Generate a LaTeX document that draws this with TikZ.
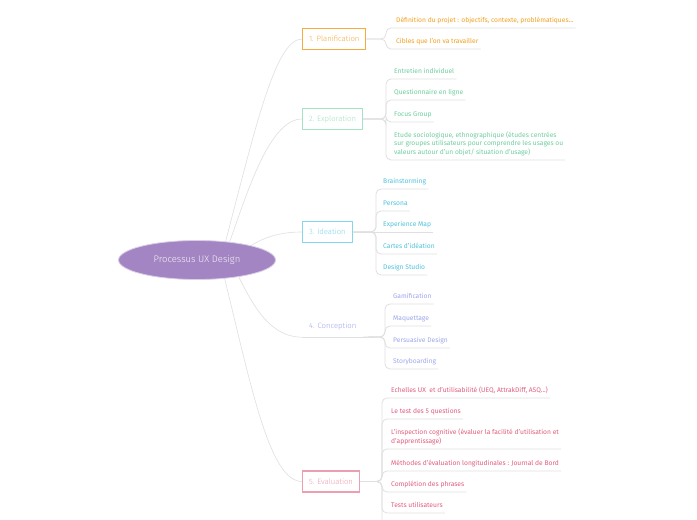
\documentclass[tikz,border=0pt]{standalone}
\usepackage{fontspec}
\setmainfont{Fira Sans}
\newfontfamily\thinfont{Fira Sans Light}
\usetikzlibrary{shapes.geometric}
\definecolor{linkgrey}{HTML}{E0E0E0}
\definecolor{orgbox}{HTML}{F7AB3E}
\definecolor{orgtxt}{HTML}{F2A01C}
\definecolor{grnbox}{HTML}{A3E2C4}
\definecolor{grntxt}{HTML}{6FCE9F}
\definecolor{cyabox}{HTML}{86D6EA}
\definecolor{cyatxt}{HTML}{4FC2DC}
\definecolor{lavtxt}{HTML}{9DA8EC}
\definecolor{pnkbox}{HTML}{EC9FB1}
\definecolor{pnktxt}{HTML}{E25C7E}
\definecolor{centrefill}{HTML}{A385C3}
\tikzset{
  x=1pt,y=1pt,
  link/.style={draw=linkgrey, line width=0.6pt},
  sublink/.style={draw=linkgrey, line width=0.8pt, rounded corners=5pt},
  topbox/.style={draw=#1, line width=1.1pt, fill=white, text=#1,
    font=\thinfont\fontsize{7.7}{9}\selectfont, minimum height=21pt,
    inner xsep=6.5pt, anchor=west},
  item/.style={text=#1, font=\fontsize{6.7}{8.6}\selectfont, anchor=south west,
    inner xsep=2pt, inner ysep=3.2pt, align=left, text depth=2pt}
}
\begin{document}
\begin{tikzpicture}
\useasboundingbox (0,0) rectangle (697,520);
\fill[white] (0,0) rectangle (697,520);

% centre
\node[ellipse, fill=centrefill, draw=centrefill!40!white, line width=0.8pt,
  minimum width=157pt, minimum height=39pt, inner sep=0pt,
  text=white!90!centrefill, font=\thinfont\fontsize{9.5}{11}\selectfont]
  (c) at (197,260) {Processus UX Design};

% main nodes
\node[topbox=orgbox] (p1) at (302,481) {1. Planification};
\node[topbox=grnbox] (p2) at (302,401) {2. Exploration};
\node[topbox=cyabox] (p3) at (302,288) {3. Ideation};
\node[anchor=west, text=lavtxt, font=\thinfont\fontsize{7.7}{9}\selectfont,
  minimum height=21pt, inner xsep=7pt] (p4) at (302,193.5) {4. Conception};
\node[topbox=pnkbox] (p5) at (302,38.5) {5. Evaluation};

% branch coordinates
\coordinate (b1) at (386,481);
\coordinate (b2) at (386,401);
\coordinate (b3) at (376,288);
\coordinate (b4) at (385,183);
\coordinate (b5) at (382,38.5);

% centre connectors
\draw[link] (c.33) .. controls (255,390) and (275,481) .. (p1.west);
\draw[link] (c.29) .. controls (248,330) and (270,401) .. (p2.west);
\draw[link] (c.15) .. controls (268,285) and (285,288) .. (p3.west);
\draw[link] (c.-22) .. controls (255,210) and (272,183) .. (p4.south west);
\draw[sublink] (p4.south west) -- (p4.south east);
\draw[link] (c.-34) .. controls (252,130) and (270,38.5) .. (p5.west);

% group 1
\node[item=orgtxt] (c11) at (394,492) {Définition du projet : objectifs, contexte, problématiques...};
\node[item=orgtxt] (c12) at (394,471) {Cibles que l'on va travailler};
\draw[sublink] (p1.east) -- (b1) |- (c11.south east);
\draw[sublink] (p1.east) -- (b1) |- (c12.south east);

% group 2
\node[item=grntxt] (c21) at (392,441) {Entretien individuel};
\node[item=grntxt] (c22) at (392,420) {Questionnaire en ligne};
\node[item=grntxt] (c23) at (392,398) {Focus Group};
\node[item=grntxt] (c24) at (392,360) {Etude sociologique, ethnographique (études centrées\\sur groupes utilisateurs pour comprendre les usages ou\\valeurs autour d'un objet/ situation d'usage)};
\foreach \k in {c21,c22,c23,c24}
  \draw[sublink] (p2.east) -- (b2) |- (\k.south east);

% group 3
\node[item=cyatxt] (c31) at (381,331) {Brainstorming};
\node[item=cyatxt] (c32) at (381,309) {Persona};
\node[item=cyatxt] (c33) at (381,288) {Experience Map};
\node[item=cyatxt] (c34) at (381,266) {Cartes d'idéation};
\node[item=cyatxt] (c35) at (381,245) {Design Studio};
\foreach \k in {c31,c32,c34,c35}
  \draw[sublink] (p3.east) -- (b3) |- (\k.south east);
\draw[sublink] (p3.east) -- (c33.south east);

% group 4
\node[item=lavtxt] (c41) at (391,216) {Gamification};
\node[item=lavtxt] (c42) at (391,194) {Maquettage};
\node[item=lavtxt] (c43) at (391,172) {Persuasive Design};
\node[item=lavtxt] (c44) at (391,151) {Storyboarding};
\foreach \k in {c41,c42,c43,c44}
  \draw[sublink] (p4.south east) -- (b4) |- (\k.south east);

% group 5
\node[item=pnktxt] (c51) at (389,122) {Echelles UX\ \ et d'utilisabilité (UEQ, AttrakDiff, ASQ...)};
\node[item=pnktxt] (c52) at (389,101) {Le test des 5 questions};
\node[item=pnktxt] (c53) at (389,71) {L'inspection cognitive (évaluer la facilité d'utilisation et\\d'apprentissage)};
\node[item=pnktxt] (c54) at (389,49) {Méthodes d'évaluation longitudinales : Journal de Bord};
\node[item=pnktxt] (c55) at (389,28) {Complétion des phrases};
\node[item=pnktxt] (c56) at (389,7) {Tests utilisateurs};
\coordinate (c57) at (440,-20);
\foreach \k in {c51,c52,c53,c54,c55,c56}
  \draw[sublink] (p5.east) -- (b5) |- (\k.south east);
\draw[sublink] (p5.east) -- (b5) |- (c57);
\end{tikzpicture}
\end{document}
